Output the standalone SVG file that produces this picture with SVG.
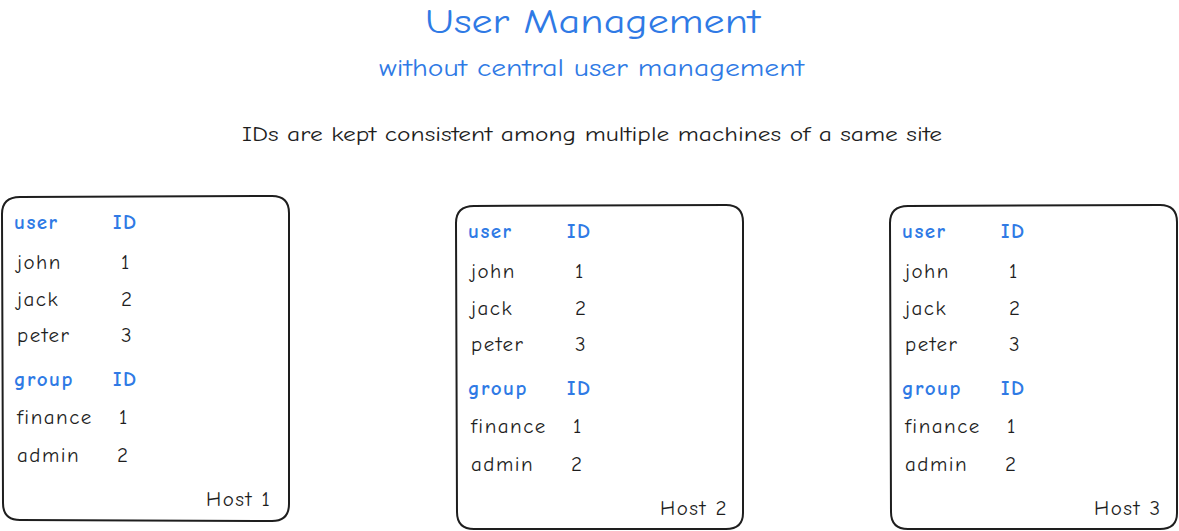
<svg xmlns="http://www.w3.org/2000/svg" width="1179" height="531" viewBox="0 0 1179 531">
<style>
text{font-family:"Comic Neue","Open Sans","Liberation Sans",sans-serif;fill:#1e1e1e;font-size:21px;letter-spacing:1.5px}
.b{fill:#2f7ae5;font-weight:bold}
.t{fill:#2f7ae5}
.box{fill:none;stroke:#1e1e1e;stroke-width:2}
</style>
<rect width="1179" height="531" fill="#fff"/>
<text class="t" x="425" y="33" textLength="335" lengthAdjust="spacingAndGlyphs" style="font-size:34px;letter-spacing:0">User Management</text>
<text class="t" x="379" y="76" textLength="425" lengthAdjust="spacingAndGlyphs" style="font-size:25px;letter-spacing:0">without central user management</text>
<text x="242" y="141" textLength="700" lengthAdjust="spacingAndGlyphs" style="letter-spacing:0">IDs are kept consistent among multiple machines of a same site</text>
<defs>
<g id="tbl">
<text class="b" x="14" y="229">user</text><text class="b" x="113" y="229">ID</text>
<text x="17" y="269">john</text><text x="121" y="269">1</text>
<text x="17" y="306">jack</text><text x="121" y="306">2</text>
<text x="17" y="342">peter</text><text x="121" y="342">3</text>
<text class="b" x="14" y="386">group</text><text class="b" x="113" y="386">ID</text>
<text x="17" y="424">finance</text><text x="119" y="424">1</text>
<text x="17" y="462">admin</text><text x="117" y="462">2</text>
</g>
</defs>
<g id="host1">
<path class="box" d="M20 197 L272 196 Q289 196 289 213 L289 504 Q289 521 272 521 L20 520 Q3 520 3 503 L2 214 Q2 197 20 197 Z"/>
<use href="#tbl"/>
<text x="206" y="506">Host 1</text>
</g>
<g id="host2" transform="translate(454,9)">
<path class="box" d="M20 197 L272 196 Q289 196 289 213 L289 504 Q289 520 272 520 L20 520 Q3 520 3 503 L2 214 Q2 197 20 197 Z"/>
<use href="#tbl"/>
<text x="206" y="506">Host 2</text>
</g>
<g id="host3" transform="translate(888,9)">
<path class="box" d="M20 197 L272 196 Q289 196 289 213 L289 504 Q289 520 272 520 L20 520 Q3 520 3 503 L2 214 Q2 197 20 197 Z"/>
<use href="#tbl"/>
<text x="206" y="506">Host 3</text>
</g>
<g id="connectors"/>
</svg>
